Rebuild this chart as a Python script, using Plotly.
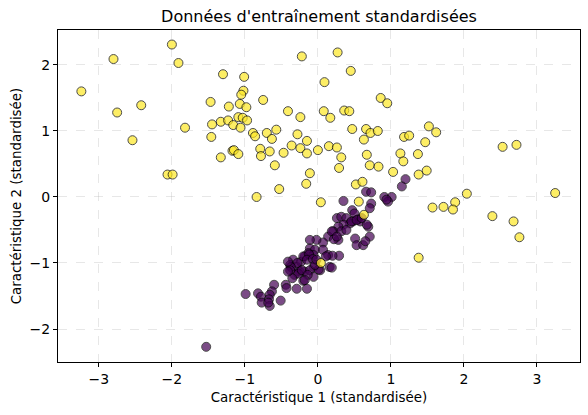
import plotly.graph_objects as go

# --- classe 1 (jaune) ---
yellow_x = [-2.00, -2.80, -1.91, -1.30, -3.24, -1.47, -1.22, -2.75, -2.42, -1.45,
            -1.33, -1.23, -1.16, -1.82, -1.46, -2.54, -1.17, -1.33, -2.06, -1.99,
            -0.22, 0.27, 0.45, -1.01, 0.09, -1.02, -1.05, -0.75, 0.86, 0.95,
            -1.07, -0.98, -0.41, 0.08, 0.36, 0.43, -0.24, 0.17, -1.09, -1.03,
            -0.97, -1.06, -0.89, -0.86, -0.70, -0.57, -0.63, -0.28, -0.15, 0.47,
            0.66, 0.72, 0.82, 0.63, -0.36, -0.24, 0.15, 0.26, -0.79, -0.66,
            -0.78, -0.47, -0.15, 0.00, -1.15, -1.09, 0.32, 0.67, 0.71, 0.83,
            0.29, -0.59, -0.11, -0.16, 0.52, 0.61, -0.53, -0.84, 1.52, 1.62,
            1.18, 1.25, 1.47, 1.13, 1.37, 1.17, 1.03, 1.38, 1.49, 2.53,
            2.72, 2.04, 3.25, 1.57, 1.72, 1.88, 1.85, 2.39, 2.68, 2.76,
            1.38, 0.04, 0.56, 0.63, 0.04]
yellow_y = [2.31, 2.09, 2.03, 1.86, 1.60, 1.44, 1.37, 1.28, 1.39, 1.10,
            1.14, 1.16, 1.09, 1.05, 0.91, 0.86, 0.70, 0.60, 0.34, 0.34,
            2.13, 2.19, 1.91, 1.82, 1.74, 1.61, 1.55, 1.47, 1.50, 1.42,
            1.41, 1.36, 1.30, 1.30, 1.31, 1.30, 1.21, 1.20, 1.21, 1.20,
            1.16, 1.05, 0.97, 0.92, 0.97, 1.02, 0.88, 0.95, 0.85, 1.03,
            1.03, 0.97, 1.00, 0.87, 0.78, 0.74, 0.77, 0.75, 0.73, 0.69,
            0.62, 0.67, 0.66, 0.71, 0.71, 0.65, 0.60, 0.64, 0.48, 0.46,
            0.44, 0.48, 0.36, 0.20, 0.19, 0.23, 0.12, 0.00, 1.07, 0.98,
            0.91, 0.93, 0.83, 0.66, 0.65, 0.54, 0.38, 0.34, 0.40, 0.76,
            0.79, 0.05, 0.06, -0.16, -0.15, -0.08, -0.19, -0.29, -0.37, -0.61,
            -0.92, -0.08, -0.07, -0.27, -1.00]

# --- classe 0 (violet) ---
purple_x = [1.20, 1.15, 0.66, 0.73, 0.91, 1.01, 0.96, 0.94, 0.35, 0.73,
            0.71, 0.47, 0.50, 0.55, 0.58, 0.69, 0.48, 0.26, 0.32, 0.39,
            0.44, 0.35, 0.28, 0.21, 0.32, 0.39, 0.46, 0.53, 0.60, 0.67,
            0.71, 0.51, 0.53, 0.62, 0.28, 0.14, 0.19, 0.07, -0.02, -0.11,
            -0.11, -0.04, 0.07, 0.14, 0.29, 0.16, 0.03, -0.34, -0.38, -0.29,
            -0.23, -0.18, -0.13, -0.06, -0.25, -0.18, -0.06, -0.32, 0.65, 0.22,
            0.26, 0.20, 0.11, -0.20, -0.12, -0.15, -0.07, -0.28, -0.37, -0.27,
            -0.38, -0.22, -0.11, 0.01, -0.06, -0.14, 0.19, -0.35, -0.20, -0.15,
            -0.29, -0.44, -0.43, -0.60, -0.63, -0.99, -0.82, -0.78, -0.77, -0.66,
            -0.67, -0.66, -0.51, -0.68, -1.53, -0.41, -0.41, -0.04, -0.02, -0.18]
purple_y = [0.27, 0.16, 0.08, 0.07, 0.00, 0.00, -0.07, -0.04, -0.06, -0.10,
            -0.17, -0.20, -0.25, -0.34, -0.37, -0.45, -0.37, -0.32, -0.30, -0.32,
            -0.40, -0.42, -0.45, -0.52, -0.52, -0.50, -0.37, -0.35, -0.32, -0.42,
            -0.60, -0.63, -0.73, -0.73, -0.65, -0.60, -0.52, -0.69, -0.65, -0.65,
            -0.78, -0.80, -0.80, -0.88, -0.89, -1.06, -1.11, -0.95, -1.03, -1.06,
            -0.98, -0.90, -0.85, -0.88, -1.13, -1.13, -1.06, -1.18, -0.67, -0.64,
            -0.60, -0.89, -0.90, -0.90, -0.87, -0.95, -0.94, -1.00, -1.06, -1.16,
            -1.11, -1.11, -1.11, -1.10, -1.21, -1.18, -1.07, -1.23, -1.27, -1.39,
            -1.39, -1.33, -1.38, -1.33, -1.43, -1.47, -1.46, -1.51, -1.60, -1.48,
            -1.55, -1.65, -1.57, -1.60, -2.27, -0.98, -1.13, -1.03, -0.95, -1.26]

x_ticks = [-3, -2, -1, 0, 1, 2, 3]
y_ticks = [-2, -1, 0, 1, 2]

FONT = "DejaVu Sans, sans-serif"

fig = go.Figure()

# violet d'abord, jaune par-dessus
fig.add_trace(go.Scatter(
    x=purple_x, y=purple_y, mode="markers",
    marker=dict(size=9, color="#440154", opacity=0.7,
                line=dict(color="black", width=1)),
    showlegend=False,
))
fig.add_trace(go.Scatter(
    x=yellow_x, y=yellow_y, mode="markers",
    marker=dict(size=9, color="#fde725", opacity=0.7,
                line=dict(color="black", width=1)),
    showlegend=False,
))

axis_style = dict(
    showline=True, mirror=True, linecolor="black", linewidth=1,
    ticks="outside", ticklen=4, tickcolor="black", tickwidth=1,
    showgrid=True, gridcolor="rgba(176,176,176,0.3)", griddash="dash", gridwidth=1,
    zeroline=False, automargin=False,
    tickfont=dict(size=14, color="black", family=FONT),
)

fig.update_layout(
    width=588, height=415,
    margin=dict(l=58, r=8, t=30, b=53),
    paper_bgcolor="white", plot_bgcolor="white",
    font=dict(family=FONT, color="black"),
    title=dict(text="Données d'entraînement standardisées", x=0.5, xanchor="center",
               xref="paper", y=0.96, yanchor="middle",
               font=dict(size=16, color="black")),
    xaxis=dict(axis_style, range=[-3.56, 3.59], tickvals=x_ticks,
               title=dict(text="Caractéristique 1 (standardisée)", font=dict(size=13.4), standoff=6)),
    yaxis=dict(axis_style, range=[-2.5, 2.53], tickvals=y_ticks,
               title=dict(text="Caractéristique 2 (standardisée)", font=dict(size=13.4), standoff=4)),
)

# la marge par défaut du <body> décale la figure de 8 px
fig.write_html("out.html", config={"displayModeBar": False},
               post_script="document.body.style.margin='0';")
